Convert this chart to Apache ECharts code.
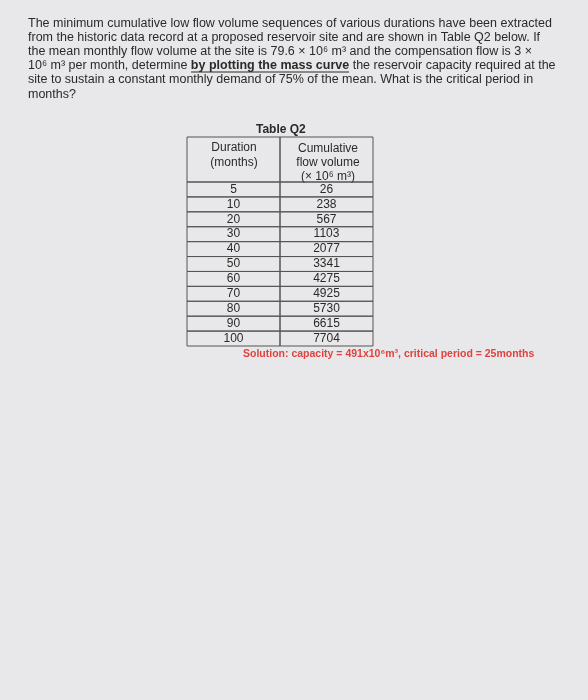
<!DOCTYPE html>
<html>
<head>
<meta charset="utf-8">
<script src="https://cdn.jsdelivr.net/npm/echarts@6/dist/echarts.min.js"></script>
<style>
  html, body { margin: 0; padding: 0; background: #e8e8ea; }
  #chart { width: 588px; height: 700px; }
</style>
</head>
<body>
<div id="chart"></div>
<script>
"use strict";

var questionLines = [
  "The minimum cumulative low flow volume sequences of various durations have been extracted",
  "from the historic data record at a proposed reservoir site and are shown in Table Q2 below. If",
  "the mean monthly flow volume at the site is 79.6 \u00d7 10\u2076 m\u00b3 and the compensation flow is 3 \u00d7",
  "10\u2076 m\u00b3 per month, determine {u|by plotting the mass curve} the reservoir capacity required at the",
  "site to sustain a constant monthly demand of 75% of the mean. What is the critical period in",
  "months?"
];
var durations = ["5", "10", "20", "30", "40", "50", "60", "70", "80", "90", "100"];
var volumes = [26, 238, 567, 1103, 2077, 3341, 4275, 4925, 5730, 6615, 7704];
var solutionText = "Solution: capacity = 491x10\u2076m\u00b3, critical period = 25months";

var chart = echarts.init(document.getElementById("chart"));
var font = "Liberation Sans, Arial, sans-serif";
var ink = "#2a2a2a";
var line = "#555";

var rows = durations.map(function (d, i) {
  return [i, d, volumes[i]];
});

chart.setOption({
  backgroundColor: "#e8e8ea",
  animation: false,
  grid: { left: 187, top: 182, width: 186, height: 164 },
  xAxis: { type: "value", min: 0, max: 2, show: false },
  yAxis: { type: "category", inverse: true, show: false, data: durations },
  graphic: [
    {
      type: "text", left: 28, top: 16,
      style: {
        text: questionLines.join("\n"),
        font: "12.5px " + font, fill: ink, lineHeight: 14.2,
        rich: { u: { font: "bold 12.5px " + font, fill: ink } }
      }
    },
    // underline for the bold phrase
    { type: "line", shape: { x1: 191, y1: 72, x2: 349, y2: 72 }, style: { stroke: ink, lineWidth: 1 } },
    { type: "text", left: 256, top: 124, style: { text: "Table Q2", font: "bold 12px " + font, fill: ink } },
    { type: "rect", shape: { x: 187, y: 137, width: 93, height: 45 }, style: { fill: "none", stroke: line, lineWidth: 1 } },
    { type: "rect", shape: { x: 280, y: 137, width: 93, height: 45 }, style: { fill: "none", stroke: line, lineWidth: 1 } },
    { type: "text", x: 234, y: 140, style: { text: "Duration\n(months)", align: "center", font: "12px " + font, fill: ink, lineHeight: 15 } },
    { type: "text", x: 328, y: 142, style: { text: "Cumulative\nflow volume\n(\u00d7 10\u2076 m\u00b3)", align: "center", font: "12px " + font, fill: ink, lineHeight: 14 } },
    { type: "text", left: 243, top: 349, style: { text: solutionText, font: "bold 10.5px " + font, fill: "#e0423f" } }
  ],
  series: [
    {
      type: "custom",
      data: rows,
      encode: { y: 0 },
      renderItem: function (params, api) {
        var top = api.coord([0, api.value(0)]);
        var mid = api.coord([1, api.value(0)]);
        var right = api.coord([2, api.value(0)]);
        var h = api.size([0, 1])[1];
        var y0 = top[1] - h / 2;
        return {
          type: "group",
          children: [
            { type: "rect", shape: { x: top[0], y: y0, width: mid[0] - top[0], height: h }, style: { fill: "none", stroke: line, lineWidth: 1 } },
            { type: "rect", shape: { x: mid[0], y: y0, width: right[0] - mid[0], height: h }, style: { fill: "none", stroke: line, lineWidth: 1 } },
            { type: "text", x: (top[0] + mid[0]) / 2, y: top[1], style: { text: api.value(1) + "", align: "center", verticalAlign: "middle", font: "12px " + font, fill: ink } },
            { type: "text", x: (mid[0] + right[0]) / 2, y: top[1], style: { text: api.value(2) + "", align: "center", verticalAlign: "middle", font: "12px " + font, fill: ink } }
          ]
        };
      }
    }
  ]
});
</script>
</body>
</html>
